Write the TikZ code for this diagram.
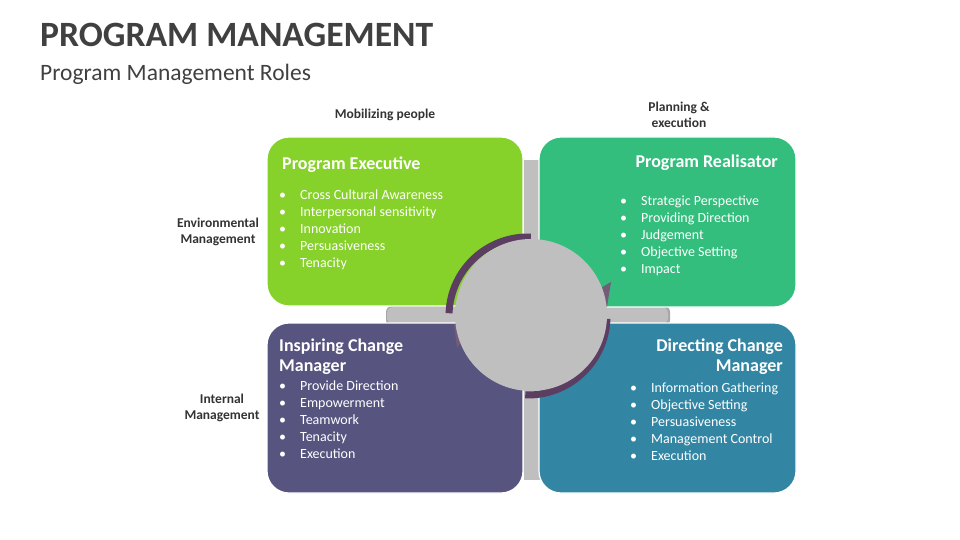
\documentclass[tikz,border=0pt]{standalone}
\usepackage{fontspec}
\setmainfont{Carlito}
\begin{document}
\begin{tikzpicture}[x=1pt,y=-1pt,
  box/.style={rounded corners=22pt,draw=white,line width=1.2pt},
  head/.style={text=white,font=\bfseries\fontsize{18}{20}\selectfont,inner sep=0},
  bl/.style={text=white,font=\fontsize{14}{16.8}\selectfont,align=left,inner sep=0},
  side/.style={text=black!80,font=\bfseries\fontsize{13.5}{16}\selectfont,align=center,inner sep=0}]
\definecolor{cg}{HTML}{86D12A}\definecolor{ct}{HTML}{33BE7E}
\definecolor{cp}{HTML}{575480}\definecolor{cb}{HTML}{3386A3}
\definecolor{gr}{HTML}{BFBFBF}\definecolor{pu}{HTML}{5B3E62}
\useasboundingbox (0,0) rectangle (960,540);
\node[anchor=west,text=black!75,font=\bfseries\fontsize{35.6}{38}\selectfont,inner sep=0] (t) at (40,35) {PROGRAM MANAGEMENT};
\node[anchor=west,text=black!75,font=\fontsize{23.5}{26}\selectfont,inner sep=0] (s) at (40,74) {Program Management Roles};
% cross
\fill[gray!70,rounded corners=6pt] (386,306) rectangle (670,326);
\fill[gr,rounded corners=6pt] (387,307) rectangle (668,324);
\fill[gr] (524,160) rectangle (540,480);
% boxes
\draw[box,fill=cg] (267,137) rectangle (523,306);
\draw[box,fill=ct] (539,137) rectangle (796,307);
\draw[box,fill=cp] (267,323) rectangle (523,493);
\draw[box,fill=cb] (539,323) rectangle (796,493);
% circle with arrows
\draw[pu,line width=7pt] (528,316) ++(182:79) arc[start angle=182,end angle=272,radius=79];
\draw[pu,line width=7pt] (528,316) ++(2:79) arc[start angle=2,end angle=92,radius=79];
\fill[pu!85] (594,292) -- (607,307) -- (611,282) -- cycle;
\fill[pu!85] (470,330) -- (454,325) -- (457,348) -- cycle;
\fill[gr] (531,315) circle (76);
% texts
\node[side] (m1) at (385,115) {Mobilizing people};
\node[side] (m2) at (679,115) {Planning \&\\execution};
\node[side] (m3) at (218,232) {Environmental\\Management};
\node[side] (m4) at (222,408) {Internal\\Management};
\node[head,anchor=west] (h1) at (282,165) {Program Executive};
\node[head,anchor=east] (h2) at (778,163) {Program Realisator};
\node[head,anchor=west,align=left] (h3) at (279,357) {Inspiring Change\\Manager};
\node[head,anchor=east,align=right] (h4) at (783,357) {Directing Change\\Manager};
\node[bl,anchor=north west] (b1) at (279,190) {\textbullet\hspace{14pt}Cross Cultural Awareness\\\textbullet\hspace{14pt}Interpersonal sensitivity\\\textbullet\hspace{14pt}Innovation\\\textbullet\hspace{14pt}Persuasiveness\\\textbullet\hspace{14pt}Tenacity};
\node[bl,anchor=north west] (b2) at (620,196) {\textbullet\hspace{14pt}Strategic Perspective\\\textbullet\hspace{14pt}Providing Direction\\\textbullet\hspace{14pt}Judgement\\\textbullet\hspace{14pt}Objective Setting\\\textbullet\hspace{14pt}Impact};
\node[bl,anchor=north west] (b3) at (279,381) {\textbullet\hspace{14pt}Provide Direction\\\textbullet\hspace{14pt}Empowerment\\\textbullet\hspace{14pt}Teamwork\\\textbullet\hspace{14pt}Tenacity\\\textbullet\hspace{14pt}Execution};
\node[bl,anchor=north west] (b4) at (630,383) {\textbullet\hspace{14pt}Information Gathering\\\textbullet\hspace{14pt}Objective Setting\\\textbullet\hspace{14pt}Persuasiveness\\\textbullet\hspace{14pt}Management Control\\\textbullet\hspace{14pt}Execution};
\end{tikzpicture}
\end{document}
